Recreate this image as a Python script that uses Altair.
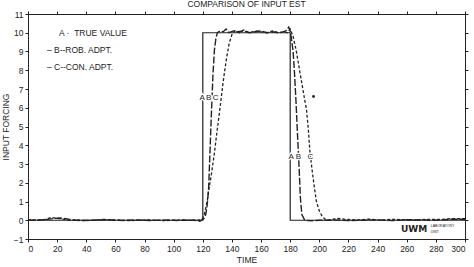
import altair as alt
import pandas as pd

# ---- data ----
a_time = [0, 120, 120, 180, 180, 300]
a_val = [0, 0, 10, 10, 0, 0]

b_time = [0, 6, 12, 18, 22, 26, 30, 36, 42, 48,
          54, 60, 66, 72, 78, 84, 90, 96, 102, 108,
          114, 118, 120, 121, 122, 123, 124, 125, 126, 127,
          128, 129, 130, 132, 134, 136, 138, 141, 144, 148,
          152, 156, 160, 164, 168, 172, 175, 177, 179, 180,
          181, 182, 183, 184, 185, 186, 187, 188, 190, 194,
          200, 210, 220, 230, 240, 250, 260, 270, 280, 290, 300]
b_val = [0.02, 0.0, 0.03, 0.1, 0.12, 0.08, 0.02, -0.02, 0.0, 0.01,
         0.03, 0.0, -0.01, 0.02, 0.0, -0.01, 0.0, 0.02, -0.01, 0.0,
         0.0, -0.05, 0.05, 0.1, 0.3, 0.8, 1.7, 3.8, 5.9, 7.8,
         9.1, 9.7, 10.0, 10.1, 10.05, 10.2, 10.0, 10.1, 10.05, 10.1,
         10.0, 10.05, 10.1, 10.0, 10.05, 10.0, 10.05, 10.1, 10.3, 10.1,
         9.6, 9.0, 7.8, 6.3, 4.6, 3.0, 1.2, 0.3, 0.0, -0.03,
         0.0, 0.02, -0.02, 0.0, 0.02, -0.02, 0.03, 0.02, 0.0, 0.05, 0.05]

c_time = [0, 5, 10, 16, 20, 25, 28, 34, 40, 46,
          52, 58, 64, 70, 76, 82, 88, 94, 100, 106,
          112, 117, 120, 121, 123, 124.5, 126, 128, 129.7, 132,
          134, 136, 138, 140, 142, 145, 148, 152, 156, 160,
          164, 168, 172, 176, 178, 180, 182, 184, 186, 188,
          190, 191.2, 192.5, 193.5, 195, 196.5, 198, 200, 202, 204,
          206, 212, 218, 226, 234, 242, 250, 258, 266, 274,
          282, 290, 300]
c_val = [0.0, 0.02, 0.0, 0.15, 0.1, 0.05, 0.0, 0.02, -0.02, 0.0,
         0.05, 0.02, 0.0, -0.02, 0.0, 0.02, 0.0, -0.02, 0.0, 0.02,
         0.0, 0.0, 0.1, 0.3, 1.0, 1.8, 2.5, 3.6, 4.7, 6.1,
         7.4, 8.5, 9.4, 9.9, 10.1, 10.0, 10.15, 10.0, 10.1, 10.05,
         10.0, 10.1, 10.0, 10.05, 10.0, 10.2, 9.8, 9.1, 8.2, 7.3,
         6.4, 5.9, 4.8, 3.7, 2.7, 1.8, 1.0, 0.5, 0.2, 0.05,
         0.0, 0.1, 0.05, 0.02, 0.06, 0.0, 0.05, 0.03, 0.0, 0.05,
         0.04, 0.08, 0.08]

legend_text = ["A \u00b7 \u00a0TRUE VALUE", "\u2013 B--ROB. ADPT.", "\u2013 C--CON. ADPT."]
legend_x = [21.3, 13.0, 13.0]
legend_y = [10.0, 9.1, 8.2]

curve_labels = ["A", "B", "C", "A", "B", "C"]
curve_label_x = [119.6, 124.0, 128.8, 180.7, 185.7, 193.8]
curve_label_y = [6.5, 6.5, 6.5, 3.4, 3.4, 3.4]

dot_x = [196]
dot_y = [6.6]

x_ticks = list(range(0, 301, 20))
y_ticks = list(range(-1, 12))

FONT = "Liberation Sans"
INK = "#222222"

xs = alt.Scale(domain=[0, 300], nice=False, zero=False)
ys = alt.Scale(domain=[-1, 11], nice=False, zero=False)

dfA = pd.DataFrame({"t": a_time, "v": a_val, "o": list(range(len(a_time)))})
dfB = pd.DataFrame({"t": b_time, "v": b_val})
dfC = pd.DataFrame({"t": c_time, "v": c_val})

lineA = alt.Chart(dfA).mark_line(color=INK, strokeWidth=1.2).encode(
    x=alt.X("t:Q", scale=xs, title="TIME",
            axis=alt.Axis(values=x_ticks, orient="bottom", tickSize=3, labelPadding=2,
                          titlePadding=3, grid=False)),
    y=alt.Y("v:Q", scale=ys, title="INPUT FORCING",
            axis=alt.Axis(values=y_ticks, orient="left", tickSize=3, labelPadding=2,
                          titlePadding=3, grid=False)),
    order="o:Q",
)

lineB = alt.Chart(dfB).mark_line(color=INK, strokeWidth=1.4, strokeDash=[7, 2]).encode(
    x=alt.X("t:Q", scale=xs, title=None,
            axis=alt.Axis(values=x_ticks, orient="top", labels=False, tickSize=3, grid=False)),
    y=alt.Y("v:Q", scale=ys, title=None,
            axis=alt.Axis(values=y_ticks, orient="right", labels=False, tickSize=3, grid=False)),
)

lineC = alt.Chart(dfC).mark_line(color=INK, strokeWidth=1.3, strokeDash=[3, 2]).encode(
    x=alt.X("t:Q", scale=xs, axis=None),
    y=alt.Y("v:Q", scale=ys, axis=None),
)

legend = alt.Chart(pd.DataFrame({"x": legend_x, "y": legend_y, "s": legend_text})).mark_text(
    align="left", baseline="middle", font=FONT, fontSize=8.5, color=INK
).encode(x=alt.X("x:Q", scale=xs, axis=None), y=alt.Y("y:Q", scale=ys, axis=None), text="s:N")

lab_df = pd.DataFrame({"x": curve_label_x, "y": curve_label_y, "s": curve_labels})
clabels_halo = alt.Chart(lab_df).mark_text(
    align="center", baseline="middle", font=FONT, fontSize=8, color="white",
    stroke="white", strokeWidth=2.5
).encode(x=alt.X("x:Q", scale=xs, axis=None), y=alt.Y("y:Q", scale=ys, axis=None), text="s:N")
clabels = alt.Chart(lab_df).mark_text(
    align="center", baseline="middle", font=FONT, fontSize=8, color=INK
).encode(x=alt.X("x:Q", scale=xs, axis=None), y=alt.Y("y:Q", scale=ys, axis=None), text="s:N")

dot = alt.Chart(pd.DataFrame({"x": dot_x, "y": dot_y})).mark_point(
    filled=True, color=INK, size=8, opacity=1
).encode(x=alt.X("x:Q", scale=xs, axis=None), y=alt.Y("y:Q", scale=ys, axis=None))

logo = alt.Chart(pd.DataFrame({"x": [265], "y": [-0.45], "s": ["UWM"]})).mark_text(
    align="center", baseline="middle", font="DejaVu Sans", fontSize=9, fontWeight="bold", color=INK
).encode(x=alt.X("x:Q", scale=xs, axis=None), y=alt.Y("y:Q", scale=ys, axis=None), text="s:N")

logo2 = alt.Chart(pd.DataFrame({"x": [276.5, 276.5], "y": [-0.3, -0.6], "s": ["LABORATORY", "UNIT"]})).mark_text(
    align="left", baseline="middle", font=FONT, fontSize=3.5, color=INK
).encode(x=alt.X("x:Q", scale=xs, axis=None), y=alt.Y("y:Q", scale=ys, axis=None), text="s:N")

chart = alt.layer(lineA, lineB, lineC, legend, clabels_halo, clabels, dot, logo, logo2).resolve_axis(
    x="independent", y="independent"
).properties(
    width=437, height=225,
    autosize=alt.AutoSizeParams(type="none"),
    padding={"left": 28, "top": 14, "right": 9, "bottom": 28},
    title=alt.TitleParams("COMPARISON OF INPUT EST", font=FONT, fontSize=8.5,
                          fontWeight="normal", color=INK, offset=2, anchor="middle"),
).configure_axis(
    labelFont=FONT, titleFont=FONT, labelFontSize=8.5, titleFontSize=8.5,
    titleFontWeight="normal", labelColor=INK, titleColor=INK,
    domainColor=INK, tickColor=INK, domainWidth=1, tickWidth=1,
).configure_view(stroke=INK, strokeWidth=1)

chart.save("out.html", embed_options={"renderer": "svg", "actions": False})
